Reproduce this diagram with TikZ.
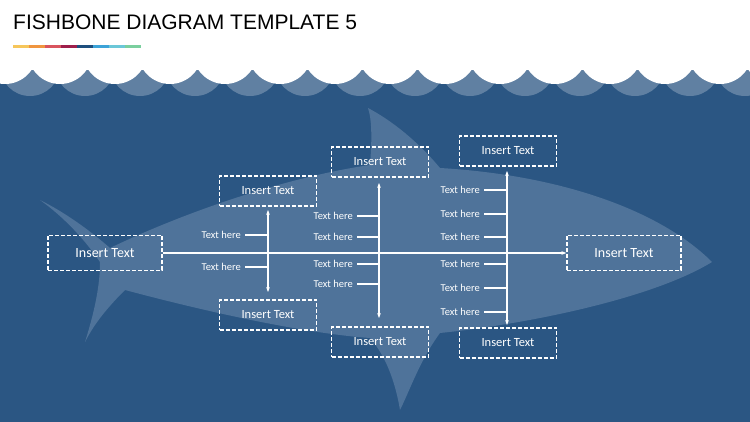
\documentclass[tikz,border=0pt]{standalone}
\usepackage{fontspec}
\setmainfont{Carlito}
\newfontfamily\titlefont{Liberation Sans}
\usetikzlibrary{arrows.meta}
\definecolor{sea}{HTML}{2B5683}
\definecolor{shark}{HTML}{4F739A}
\begin{document}
\begin{tikzpicture}[x=1pt,y=-1pt,
  box/.style={draw=white,dashed,line width=1.3pt,dash pattern=on 4pt off 2pt,minimum width=97pt,minimum height=30pt,text=white,font=\fontsize{12.5}{13}\selectfont,inner sep=0pt},
  big/.style={box,minimum width=114pt,minimum height=35pt,font=\fontsize{14}{15}\selectfont},
  lab/.style={text=white,font=\fontsize{10.5}{11}\selectfont,inner sep=1pt},
  bone/.style={draw=white,line width=1.2pt},
  arr/.style={bone,{Stealth[length=5pt]}-{Stealth[length=5pt]}}]
\useasboundingbox (0,0) rectangle (750,422);
\fill[white] (0,0) rectangle (750,422);
\fill[sea] (0,70) rectangle (750,422);
\foreach \i in {0,...,14} {\fill[white,opacity=0.25] (30+55*\i,66) circle (30);}
\foreach \i in {0,...,14} {\fill[white] (5+55*\i,52) circle (32);}
\fill[white] (0,0) rectangle (750,52);
\node[anchor=west,font=\titlefont\fontsize{21}{24}\selectfont,inner sep=0pt] (title) at (13,22) {FISHBONE DIAGRAM TEMPLATE 5};
\foreach \c [count=\k from 0] in {F6C65B,F0953F,D9545E,9E1F4B,1E4F7E,3CA3D8,6BC7D8,7ACF9E}
  {\definecolor{seg}{HTML}{\c}\fill[seg] (13+16*\k,45) rectangle (29+16*\k,48);}
% shark
\fill[shark] (40,200) .. controls (70,215) and (95,235) .. (110,248)
  .. controls (200,205) and (300,175) .. (370,165)
  .. controls (372,140) and (372,120) .. (368,108)
  .. controls (400,125) and (425,150) .. (440,168)
  .. controls (560,175) and (660,210) .. (712,262)
  .. controls (650,300) and (520,325) .. (440,333)
  .. controls (420,360) and (410,390) .. (400,410)
  .. controls (395,380) and (385,355) .. (370,338)
  .. controls (300,333) and (200,310) .. (125,290)
  .. controls (110,305) and (95,322) .. (85,342)
  .. controls (95,310) and (100,285) .. (100,262)
  .. controls (85,240) and (65,218) .. (40,200) -- cycle;
% boxes
\node[big] (tail) at (105,253) {Insert Text};
\node[big] (head) at (624,253) {Insert Text};
\node[box] (t1) at (268,191) {Insert Text};
\node[box] (b1) at (268,315) {Insert Text};
\node[box] (t2) at (380,162) {Insert Text};
\node[box] (b2) at (380,342) {Insert Text};
\node[box] (t3) at (508,151) {Insert Text};
\node[box] (b3) at (508,343) {Insert Text};
\draw[bone,-{Stealth[length=5pt]}] (tail.east) -- (head.west);
\coordinate (a1) at (268,210); \coordinate (z1) at (268,292);
\coordinate (a2) at (379,183); \coordinate (z2) at (379,318);
\coordinate (a3) at (507,171); \coordinate (z3) at (507,325);
\draw[arr] (a1) -- (z1);
\draw[arr] (a2) -- (z2);
\draw[arr] (a3) -- (z3);
\foreach \y [count=\n] in {235,267} {
  \node[lab,anchor=east] (l1\n) at (242,\y) {Text here};
  \draw[bone] (l1\n.east) ++(3,0) -- (268,\y);}
\foreach \y [count=\n] in {216,237,264,284} {
  \node[lab,anchor=east] (l2\n) at (354,\y) {Text here};
  \draw[bone] (l2\n.east) ++(3,0) -- (379,\y);}
\foreach \y [count=\n] in {190,214,237,264,288,312} {
  \node[lab,anchor=east] (l3\n) at (481,\y) {Text here};
  \draw[bone] (l3\n.east) ++(3,0) -- (507,\y);}
\end{tikzpicture}
\end{document}
